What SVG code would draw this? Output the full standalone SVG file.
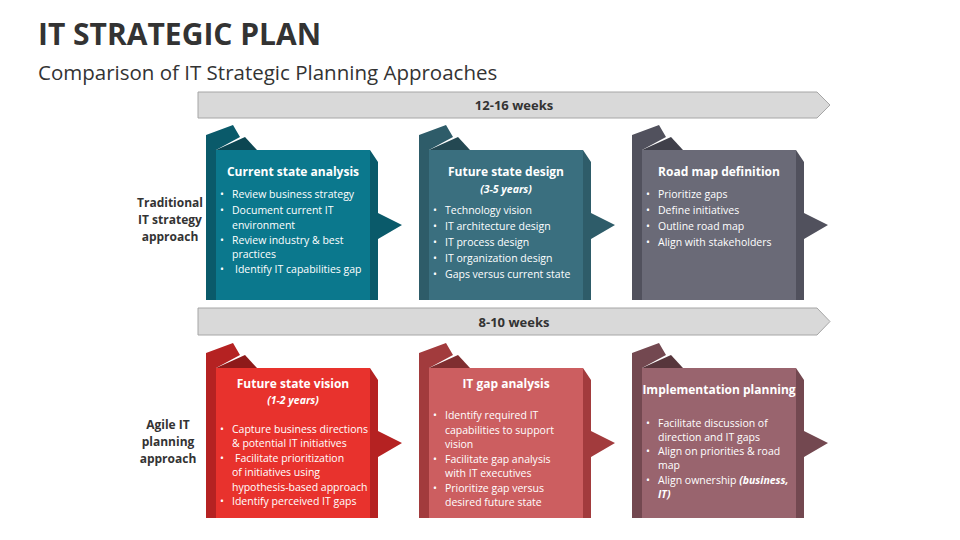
<svg xmlns="http://www.w3.org/2000/svg" width="960" height="540" viewBox="0 0 960 540">
<style>
text{font-family:"Open Sans","Liberation Sans",sans-serif}
.h1{font-size:30px;font-weight:bold;fill:#333}
.h2{font-size:20.5px;fill:#333}
.band{fill:#D9D9D9;stroke:#A6A6A6;stroke-width:1}
.bt{font-size:13px;font-weight:bold;fill:#333;text-anchor:middle}
.lab{font-size:12px;font-weight:bold;fill:#333;text-anchor:middle}
.t{font-size:12px;font-weight:bold;fill:#fff;text-anchor:middle}
.i{font-size:10.5px;font-weight:bold;font-style:italic;fill:#fff;text-anchor:middle}
.b{font-size:10.5px;fill:#fff}
.dk{fill:var(--d)}
.dk2{fill:var(--e)}
.fc{fill:var(--f)}
</style>
<defs>
<g id="shape">
<polygon class="dk" points="0,10 27,0 34,12 10,25 10,175 0,175"/>
<polygon class="dk2" points="10,25 39,12 51,25"/>
<polygon class="dk" points="164,25 172,37 172,88 196,100 172,114 172,175 164,175"/>
<rect class="fc" x="10" y="25" width="154" height="150"/>
</g>
</defs>
<text class="h1" x="38" y="45">IT STRATEGIC PLAN</text>
<text class="h2" x="38" y="80">Comparison of IT Strategic Planning Approaches</text>
<g id="band1"><polygon class="band" points="198,92 817,92 830,105 817,118 198,118"/><text class="bt" x="514" y="110">12-16 weeks</text></g>
<g id="band2"><polygon class="band" points="198,308 817,308 830,321.5 817,335 198,335"/><text class="bt" x="514" y="327">8-10 weeks</text></g>
<text class="lab" x="170" y="207">Traditional<tspan x="170" dy="17">IT strategy</tspan><tspan x="170" dy="17">approach</tspan></text>
<text class="lab" x="168" y="429">Agile IT<tspan x="168" dy="17">planning</tspan><tspan x="168" dy="17">approach</tspan></text>
<g id="connectors"></g>
<g id="n1" transform="translate(206,125)" style="--d:#0A5A6A;--e:#0C4652;--f:#0B788D">
<use href="#shape"/>
<text class="t" x="87" y="51">Current state analysis</text>
<text class="b"><tspan x="14" y="73">•</tspan><tspan x="26">Review business strategy</tspan><tspan x="14" y="89">•</tspan><tspan x="26">Document current IT</tspan><tspan x="26" y="104">environment</tspan><tspan x="14" y="119">•</tspan><tspan x="26">Review industry &amp; best</tspan><tspan x="26" y="133">practices</tspan><tspan x="14" y="148">•</tspan><tspan x="29">Identify IT capabilities gap</tspan></text>
</g>
<g id="n2" transform="translate(419,125)" style="--d:#2E5C69;--e:#244852;--f:#3A6F7F">
<use href="#shape"/>
<text class="t" x="87" y="51">Future state design</text>
<text class="i" x="87" y="68">(3-5 years)</text>
<text class="b"><tspan x="14" y="89">•</tspan><tspan x="26">Technology vision</tspan><tspan x="14" y="105">•</tspan><tspan x="26">IT architecture design</tspan><tspan x="14" y="121">•</tspan><tspan x="26">IT process design</tspan><tspan x="14" y="137">•</tspan><tspan x="26">IT organization design</tspan><tspan x="14" y="153">•</tspan><tspan x="26">Gaps versus current state</tspan></text>
</g>
<g id="n3" transform="translate(632,125)" style="--d:#51515D;--e:#40404A;--f:#6A6A77">
<use href="#shape"/>
<text class="t" x="87" y="51">Road map definition</text>
<text class="b"><tspan x="14" y="73">•</tspan><tspan x="26">Prioritize gaps</tspan><tspan x="14" y="89">•</tspan><tspan x="26">Define initiatives</tspan><tspan x="14" y="105">•</tspan><tspan x="26">Outline road map</tspan><tspan x="14" y="121">•</tspan><tspan x="26">Align with stakeholders</tspan></text>
</g>
<g id="n4" transform="translate(206,343)" style="--d:#B52222;--e:#8E1A1A;--f:#E8322D">
<use href="#shape"/>
<text class="t" x="87" y="45">Future state vision</text>
<text class="i" x="87" y="61">(1-2 years)</text>
<text class="b"><tspan x="14" y="90">•</tspan><tspan x="26">Capture business directions</tspan><tspan x="26" y="104">&amp; potential IT initiatives</tspan><tspan x="14" y="119">•</tspan><tspan x="29">Facilitate prioritization</tspan><tspan x="26" y="133">of  initiatives using</tspan><tspan x="26" y="148">hypothesis-based approach</tspan><tspan x="14" y="162">•</tspan><tspan x="26">Identify perceived IT gaps</tspan></text>
</g>
<g id="n5" transform="translate(419,343)" style="--d:#A23B3D;--e:#7F2E30;--f:#CC5E60">
<use href="#shape"/>
<text class="t" x="87" y="45">IT gap analysis</text>
<text class="b"><tspan x="14" y="76">•</tspan><tspan x="26">Identify required IT</tspan><tspan x="26" y="91">capabilities to support</tspan><tspan x="26" y="105">vision</tspan><tspan x="14" y="120">•</tspan><tspan x="26">Facilitate gap analysis</tspan><tspan x="26" y="134">with IT executives</tspan><tspan x="14" y="149">•</tspan><tspan x="26">Prioritize gap versus</tspan><tspan x="26" y="163">desired future state</tspan></text>
</g>
<g id="n6" transform="translate(632,343)" style="--d:#734850;--e:#57363C;--f:#99646E">
<use href="#shape"/>
<text class="t" x="87" y="51">Implementation planning</text>
<text class="b"><tspan x="14" y="84">•</tspan><tspan x="26">Facilitate discussion of</tspan><tspan x="26" y="98">direction and IT gaps</tspan><tspan x="14" y="112">•</tspan><tspan x="26">Align on priorities &amp; road</tspan><tspan x="26" y="126">map</tspan><tspan x="14" y="141">•</tspan><tspan x="26">Align ownership <tspan font-style="italic" font-weight="bold">(business,</tspan></tspan><tspan x="26" y="155" font-style="italic" font-weight="bold">IT)</tspan></text>
</g>
</svg>
